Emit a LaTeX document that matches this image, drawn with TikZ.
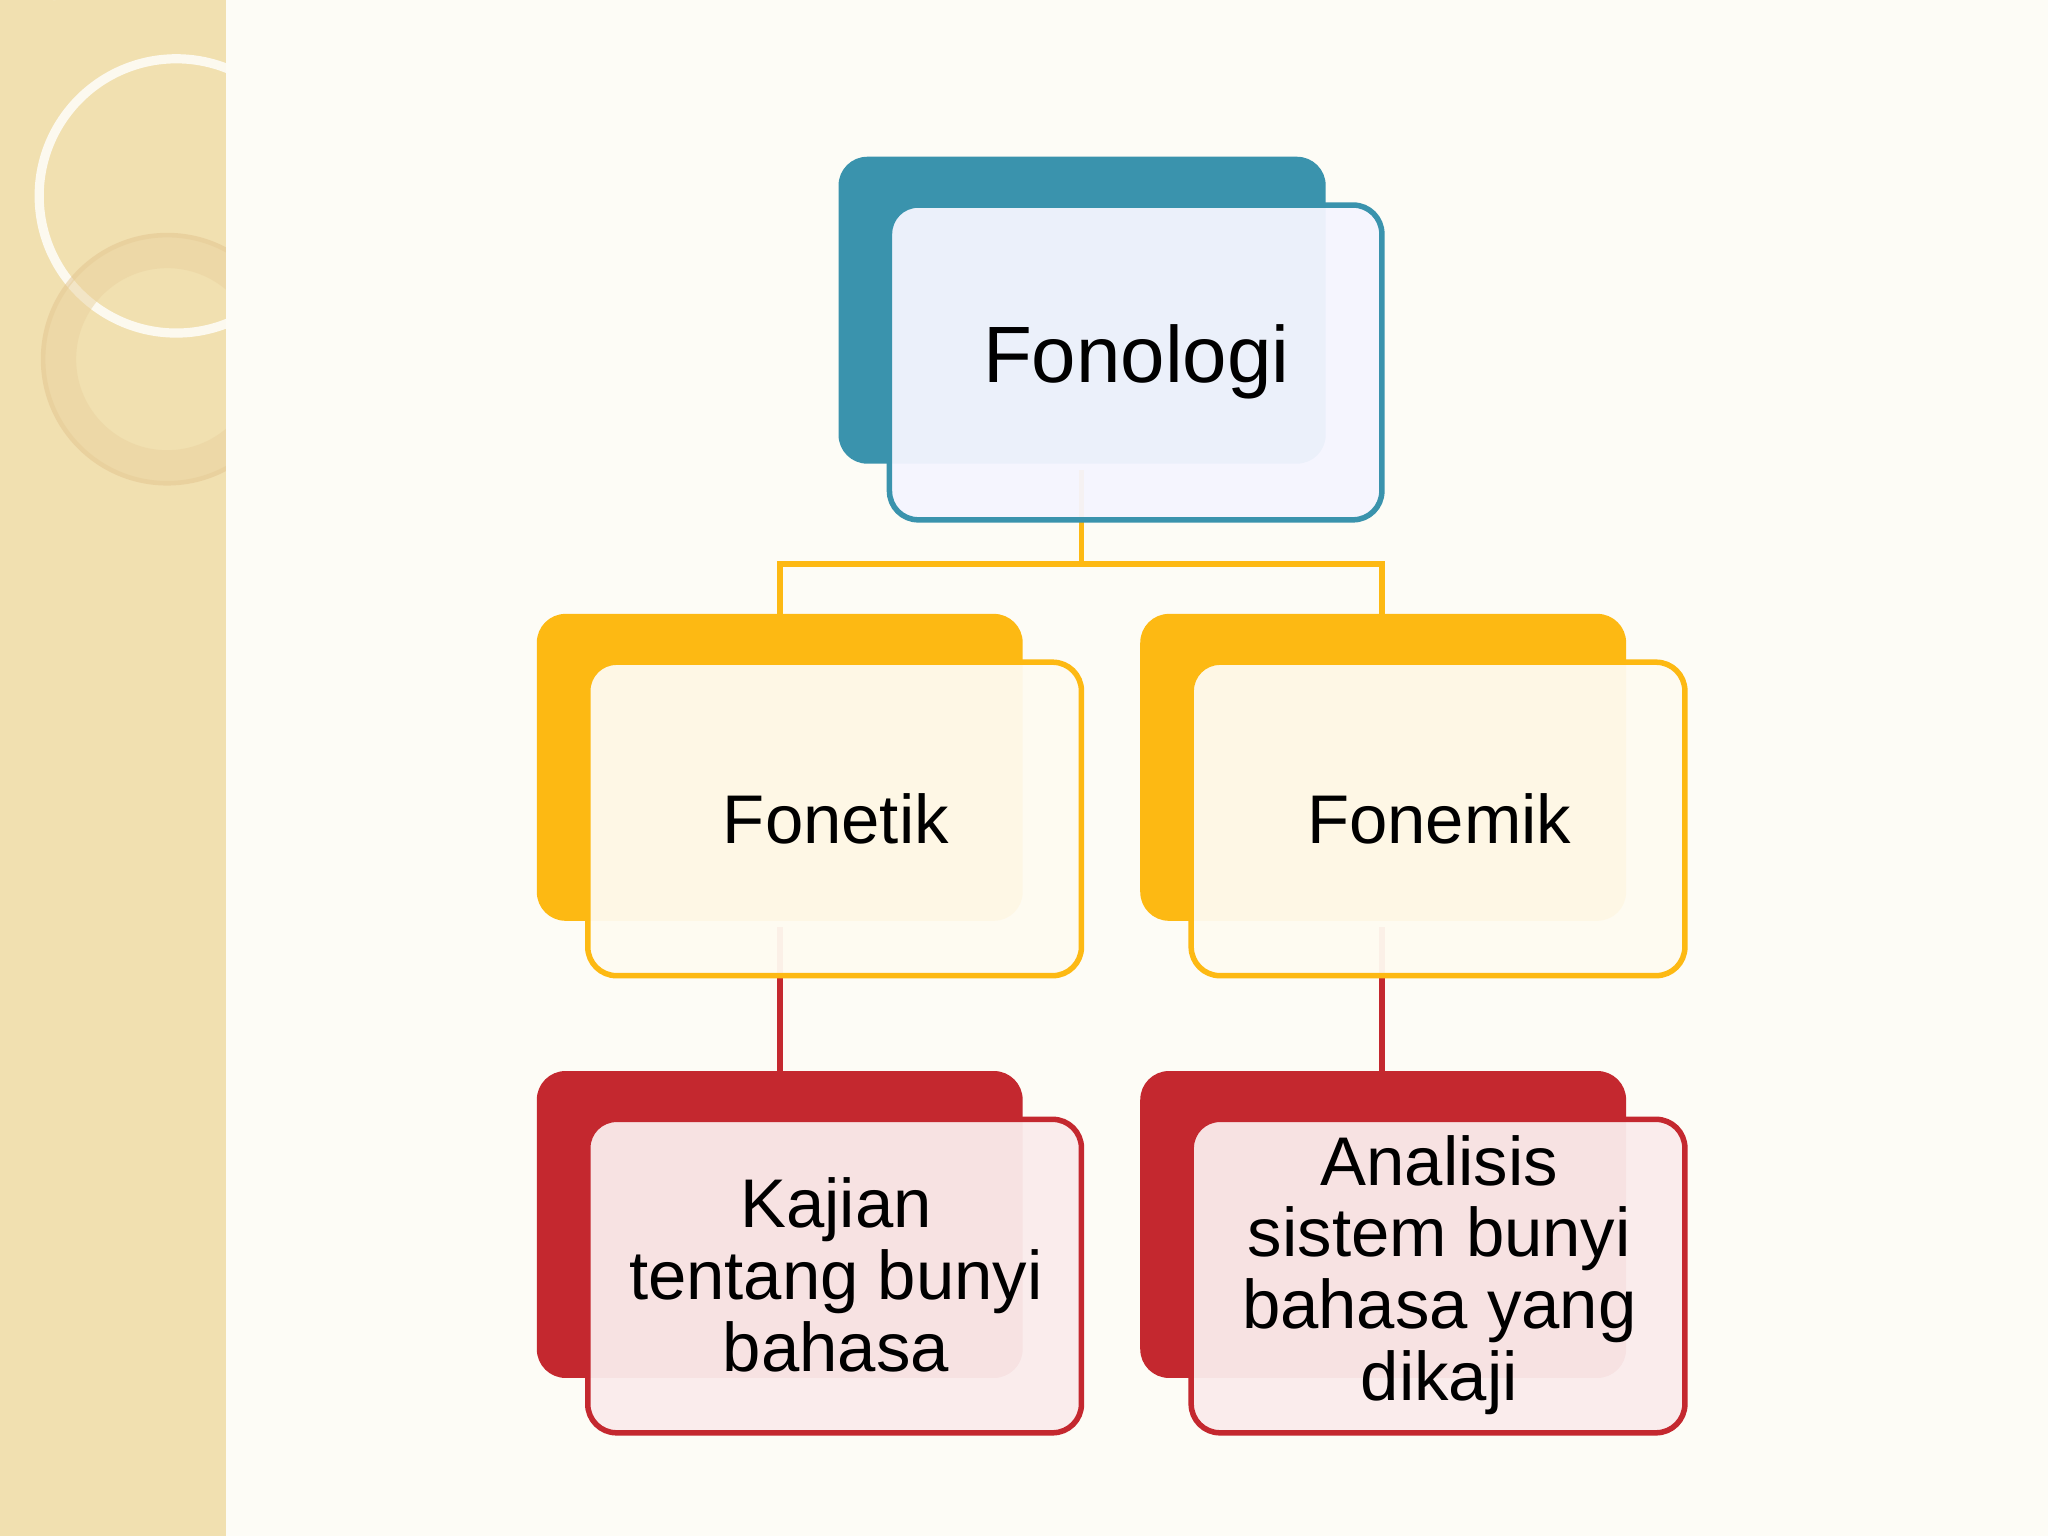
\documentclass[tikz,border=0pt]{standalone}
\usepackage{fontspec}
\setmainfont{Liberation Sans}
\definecolor{teal}{HTML}{3A93AD}
\definecolor{yel}{HTML}{FDB913}
\definecolor{red1}{HTML}{C4282F}
\definecolor{band}{HTML}{F1E0B0}
\definecolor{bg}{HTML}{FDFCF6}
\tikzset{
 back/.style={rounded corners=0.22cm},
 front/.style={rounded corners=0.22cm, line width=1.2pt},
 lbl/.style={font=\fontsize{15}{15.6}\selectfont, align=center, text=black},
 conn/.style={line width=1.2pt}
}
\begin{document}
\begin{tikzpicture}[x=0.01cm,y=-0.01cm]
\fill[bg] (0,0) rectangle (1568,1176);
\useasboundingbox (0,0) rectangle (1568,1176);
\fill[band] (0,0) rectangle (173,1176);
\begin{scope}
\clip (0,0) rectangle (173,1176);
\draw[white!80!band, line width=2pt] (135,150) circle (105);
\draw[band!70!brown, line width=1pt, opacity=0.5] (128,275) circle (95);
\draw[band!85!brown, line width=7pt, opacity=0.5] (128,275) circle (82);
\draw[white!60!band, line width=1.5pt] (40,0) arc (180:270:100 and 140);
\end{scope}
% connectors
\coordinate (c1) at (828,432);
\draw[yel,conn] (828,360) -- (c1);
\draw[yel,conn] (597,470) -- (597,432) -- (1058,432) -- (1058,470);
\draw[red1,conn] (597,710) -- (597,820);
\draw[red1,conn] (1058,710) -- (1058,820);
% Fonologi
\fill[teal,back] (642,120) rectangle (1015,355);
\draw[teal,front,fill=blue!4!white,fill opacity=0.95] (681,157) rectangle (1058,398);
\node[lbl,font=\fontsize{17.4}{19}\selectfont] (fon) at (870,277) {Fonologi};
% Fonetik
\fill[yel,back] (411,470) rectangle (783,705);
\draw[yel,front,fill=yel!6!white,fill opacity=0.95] (450,507) rectangle (828,747);
\node[lbl] (fnt) at (640,627) {Fonetik};
% Fonemik
\fill[yel,back] (873,470) rectangle (1245,705);
\draw[yel,front,fill=yel!6!white,fill opacity=0.95] (912,507) rectangle (1290,747);
\node[lbl] (fnm) at (1102,627) {Fonemik};
% Kajian
\fill[red1,back] (411,820) rectangle (783,1055);
\draw[red1,front,fill=red1!9!white,fill opacity=0.95] (450,857) rectangle (828,1097);
\node[lbl] (kaj) at (640,976) {Kajian\\tentang bunyi\\bahasa};
% Analisis
\fill[red1,back] (873,820) rectangle (1245,1055);
\draw[red1,front,fill=red1!9!white,fill opacity=0.95] (912,857) rectangle (1290,1097);
\node[lbl] (ana) at (1102,976) {Analisis\\sistem bunyi\\bahasa yang\\dikaji};
\end{tikzpicture}
\end{document}
